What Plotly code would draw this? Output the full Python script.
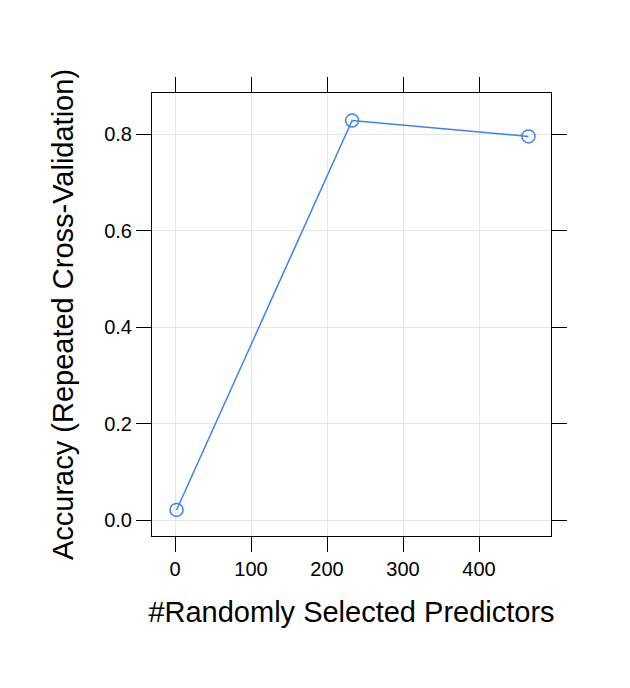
import plotly.graph_objects as go

predictors = [2, 233, 465]
accuracy = [0.021, 0.828, 0.795]
x_ticks = [0, 100, 200, 300, 400]
y_ticks = [0.0, 0.2, 0.4, 0.6, 0.8]

fig = go.Figure(go.Scatter(
    x=predictors, y=accuracy, mode="lines+markers",
    line=dict(color="#3B82F0", width=1.5),
    marker=dict(symbol="circle-open", size=13, color="#3B82F0", line=dict(width=1.5)),
))
ax = dict(showline=True, linecolor="black", linewidth=1, mirror="ticks",
          ticks="outside", ticklen=15, tickcolor="black", showgrid=True,
          gridcolor="#E6E6E6", zeroline=False,
          tickfont=dict(size=20, color="black"))
fig.update_layout(
    width=630, height=688, plot_bgcolor="white", paper_bgcolor="white",
    margin=dict(l=144, r=87, t=85, b=160), showlegend=False,
    font=dict(family="Liberation Sans, Arial", color="black"),
    xaxis=dict(ax, range=[-30.3, 494.7], tickvals=x_ticks,
               title=dict(text="#Randomly Selected Predictors", font=dict(size=29), standoff=22)),
    yaxis=dict(ax, range=[-0.033, 0.885], tickvals=y_ticks, tickformat=".1f",
               title=dict(text="Accuracy (Repeated Cross-Validation)", font=dict(size=29), standoff=22)),
)
fig.write_html("out.html")
